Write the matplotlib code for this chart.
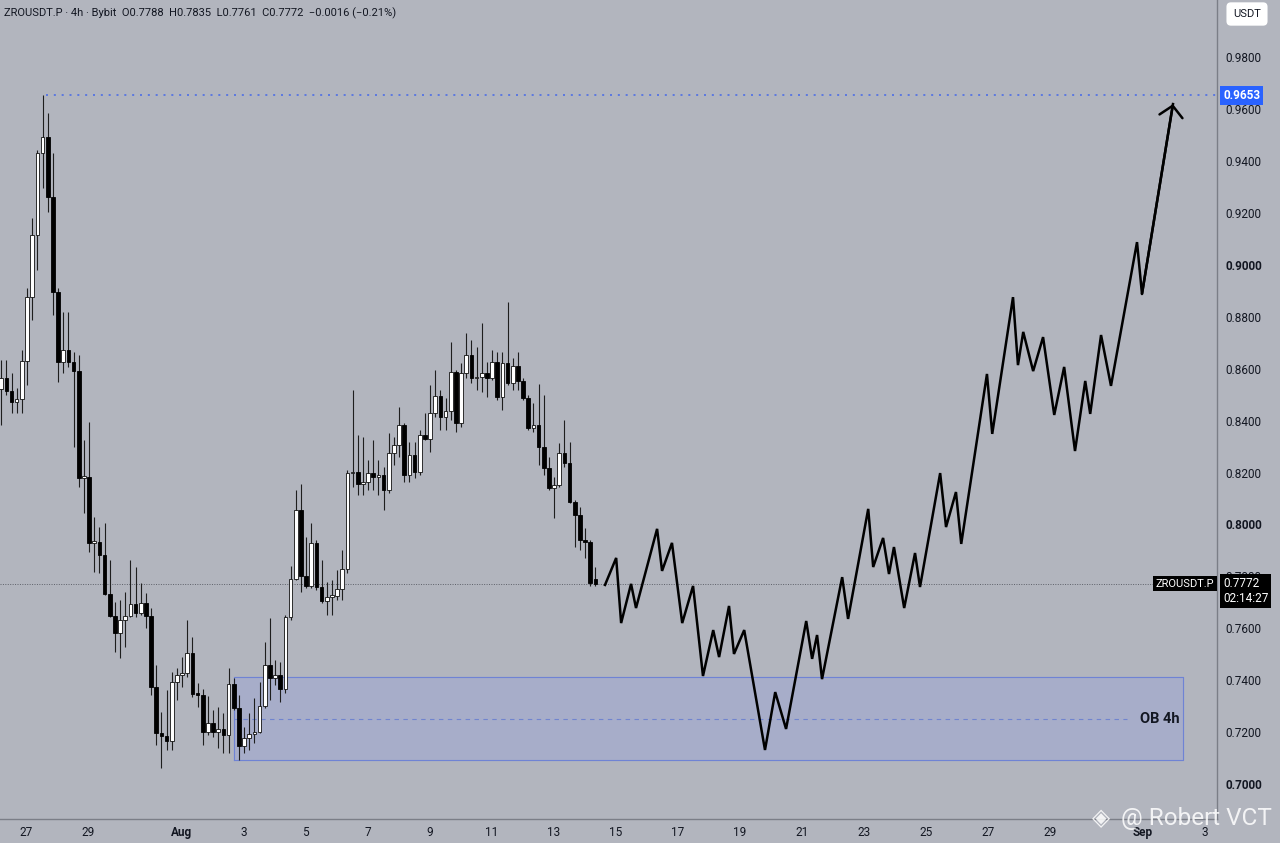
import numpy as np
import matplotlib
matplotlib.use("Agg")
from matplotlib import pyplot as plt
from matplotlib.transforms import blended_transform_factory

plt.rcParams['font.family'] = ['Roboto', 'DejaVu Sans']

# 4h candles of ZROUSDT.P, x axis counted in days from Aug 1 00:00
opens = [0.8522, 0.8564, 0.8514, 0.8472, 0.8483, 0.8630, 0.8877, 0.9115, 0.9431, 0.9493,
         0.9262, 0.8896, 0.8626, 0.8672, 0.8626, 0.8591, 0.8179, 0.8183, 0.7929, 0.7932,
         0.7882, 0.7732, 0.7647, 0.7582, 0.7632, 0.7647, 0.7693, 0.7659, 0.7697, 0.7647,
         0.7374, 0.7196, 0.7185, 0.7166, 0.7393, 0.7420, 0.7427, 0.7505, 0.7347, 0.7343,
         0.7200, 0.7235, 0.7200, 0.7212, 0.7189, 0.7385, 0.7293, 0.7146, 0.7177, 0.7192,
         0.7200, 0.7300, 0.7458, 0.7408, 0.7420, 0.7366, 0.7643, 0.7790, 0.8056, 0.7801,
         0.7763, 0.7929, 0.7759, 0.7705, 0.7721, 0.7724, 0.7751, 0.7828, 0.8198, 0.8202,
         0.8156, 0.8164, 0.8198, 0.8183, 0.8191, 0.8133, 0.8275, 0.8306, 0.8383, 0.8191,
         0.8268, 0.8202, 0.8345, 0.8329, 0.8430, 0.8495, 0.8414, 0.8437, 0.8587, 0.8391,
         0.8584, 0.8653, 0.8564, 0.8568, 0.8584, 0.8564, 0.8626, 0.8491, 0.8622, 0.8545,
         0.8611, 0.8553, 0.8487, 0.8372, 0.8383, 0.8298, 0.8218, 0.8140, 0.8152, 0.8275,
         0.8237, 0.8087, 0.8036, 0.7940, 0.7932, 0.7788]
highs = [0.8634, 0.8634, 0.8584, 0.8526, 0.8672, 0.8911, 0.9181, 0.9443, 0.9653, 0.9586,
         0.9431, 0.8911, 0.8819, 0.8819, 0.8665, 0.8653, 0.8325, 0.8395, 0.8029, 0.7991,
         0.8006, 0.7863, 0.7701, 0.7709, 0.7740, 0.7863, 0.7836, 0.7774, 0.7736, 0.7678,
         0.7458, 0.7277, 0.7362, 0.7431, 0.7447, 0.7489, 0.7632, 0.7566, 0.7389, 0.7366,
         0.7339, 0.7285, 0.7297, 0.7273, 0.7447, 0.7408, 0.7343, 0.7219, 0.7273, 0.7331,
         0.7393, 0.7547, 0.7640, 0.7478, 0.7470, 0.7651, 0.7840, 0.8133, 0.8156, 0.7952,
         0.8006, 0.7940, 0.7863, 0.7778, 0.7786, 0.7824, 0.7902, 0.8210, 0.8518, 0.8345,
         0.8337, 0.8248, 0.8325, 0.8248, 0.8221, 0.8352, 0.8337, 0.8453, 0.8391, 0.8318,
         0.8318, 0.8364, 0.8430, 0.8537, 0.8595, 0.8518, 0.8487, 0.8703, 0.8595, 0.8622,
         0.8738, 0.8711, 0.8684, 0.8776, 0.8626, 0.8672, 0.8665, 0.8665, 0.8857, 0.8641,
         0.8665, 0.8564, 0.8499, 0.8468, 0.8541, 0.8499, 0.8260, 0.8183, 0.8314, 0.8403,
         0.8318, 0.8094, 0.8067, 0.7987, 0.7940, 0.7835]
lows = [0.8383, 0.8499, 0.8430, 0.8430, 0.8430, 0.8537, 0.8788, 0.8981, 0.9297, 0.9204,
        0.8807, 0.8549, 0.8584, 0.8607, 0.8298, 0.8144, 0.8044, 0.7894, 0.7817, 0.7813,
        0.7728, 0.7643, 0.7508, 0.7485, 0.7528, 0.7643, 0.7643, 0.7651, 0.7601, 0.7343,
        0.7150, 0.7061, 0.7131, 0.7131, 0.7324, 0.7374, 0.7412, 0.7335, 0.7297, 0.7150,
        0.7189, 0.7181, 0.7139, 0.7119, 0.7119, 0.7285, 0.7092, 0.7119, 0.7131, 0.7158,
        0.7196, 0.7293, 0.7324, 0.7381, 0.7316, 0.7351, 0.7632, 0.7786, 0.7740, 0.7755,
        0.7755, 0.7748, 0.7697, 0.7651, 0.7651, 0.7709, 0.7709, 0.7813, 0.8144, 0.8113,
        0.8113, 0.8133, 0.8133, 0.8113, 0.8056, 0.8121, 0.8229, 0.8260, 0.8164, 0.8164,
        0.8179, 0.8191, 0.8325, 0.8279, 0.8414, 0.8364, 0.8364, 0.8403, 0.8356, 0.8376,
        0.8564, 0.8545, 0.8518, 0.8510, 0.8491, 0.8557, 0.8480, 0.8441, 0.8537, 0.8518,
        0.8518, 0.8480, 0.8364, 0.8356, 0.8229, 0.8191, 0.8133, 0.8025, 0.8144, 0.8221,
        0.8083, 0.7913, 0.7902, 0.7871, 0.7763, 0.7761]
closes = [0.8564, 0.8514, 0.8472, 0.8483, 0.8630, 0.8877, 0.9115, 0.9431, 0.9493, 0.9262,
          0.8896, 0.8626, 0.8672, 0.8626, 0.8591, 0.8179, 0.8183, 0.7929, 0.7932, 0.7882,
          0.7732, 0.7647, 0.7582, 0.7632, 0.7647, 0.7693, 0.7659, 0.7697, 0.7647, 0.7374,
          0.7196, 0.7185, 0.7166, 0.7393, 0.7420, 0.7427, 0.7505, 0.7347, 0.7343, 0.7200,
          0.7235, 0.7200, 0.7212, 0.7189, 0.7385, 0.7293, 0.7146, 0.7177, 0.7192, 0.7200,
          0.7300, 0.7458, 0.7408, 0.7420, 0.7366, 0.7643, 0.7790, 0.8056, 0.7801, 0.7763,
          0.7929, 0.7759, 0.7705, 0.7721, 0.7724, 0.7751, 0.7828, 0.8198, 0.8202, 0.8156,
          0.8164, 0.8198, 0.8183, 0.8191, 0.8133, 0.8275, 0.8306, 0.8383, 0.8191, 0.8268,
          0.8202, 0.8345, 0.8329, 0.8430, 0.8495, 0.8414, 0.8437, 0.8587, 0.8391, 0.8584,
          0.8653, 0.8564, 0.8568, 0.8584, 0.8564, 0.8626, 0.8491, 0.8622, 0.8545, 0.8611,
          0.8553, 0.8487, 0.8372, 0.8383, 0.8298, 0.8218, 0.8140, 0.8152, 0.8275, 0.8237,
          0.8087, 0.8036, 0.7940, 0.7932, 0.7774, 0.7772]
last_candle_day = 13.35

# hand drawn projection
path_days = [13.66, 14.02, 14.18, 14.50, 14.66, 15.34, 15.50, 15.82, 16.15, 16.50,
             16.82, 17.15, 17.34, 17.66, 17.82, 18.15, 18.82, 19.15, 19.50, 20.15,
             20.34, 20.50, 20.66, 21.31, 21.50, 22.15, 22.31, 22.63, 22.82, 22.98,
             23.31, 23.66, 23.82, 24.47, 24.66, 24.98, 25.15, 25.98, 26.15, 26.82,
             26.98, 27.15, 27.47, 27.79, 28.15, 28.47, 28.82, 29.15, 29.31, 29.66,
             29.98, 30.82, 30.98, 31.98]
path_prices = [0.7767, 0.7871, 0.7620, 0.7771, 0.7678, 0.7983, 0.7821, 0.7929, 0.7620, 0.7763,
               0.7416, 0.7593, 0.7489, 0.7686, 0.7501, 0.7593, 0.7131, 0.7354, 0.7212, 0.7628,
               0.7482, 0.7574, 0.7404, 0.7797, 0.7636, 0.8060, 0.7836, 0.7948, 0.7809, 0.7913,
               0.7678, 0.7890, 0.7759, 0.8198, 0.7990, 0.8125, 0.7925, 0.8580, 0.8349, 0.8876,
               0.8614, 0.8742, 0.8591, 0.8722, 0.8422, 0.8607, 0.8283, 0.8553, 0.8426, 0.8730,
               0.8534, 0.9088, 0.8888, 0.9620]

ob_start, ob_end = 1.69, 32.31
ob_top, ob_bottom = 0.7412, 0.7092
high_level = 0.9653
high_level_day = -4.37
last_price = 0.7772

xtick_days = [-5, -3, 0, 2, 4, 6, 8, 10, 12, 14, 16, 18, 20, 22, 24, 26, 28, 31, 33]
xtick_labels = ['27', '29', 'Aug', '3', '5', '7', '9', '11', '13', '15', '17', '19',
                '21', '23', '25', '27', '29', 'Sep', '3']
ytick_prices = [0.70, 0.72, 0.74, 0.76, 0.78, 0.80, 0.82, 0.84, 0.86, 0.88, 0.90,
                0.92, 0.94, 0.96, 0.98]

bg = '#b2b5be'
ink = '#131722'

fig = plt.figure(figsize=(12.8, 8.43), dpi=100, facecolor=bg)
ax = fig.add_axes([0, 24 / 843, 1217 / 1280, 819 / 843], facecolor=bg)

n = len(opens)
days = last_candle_day - (n - 1 - np.arange(n)) / 6
o = np.array(opens)
c = np.array(closes)
up = c >= o
body_w = 0.7 / 6

ax.vlines(days, lows, highs, color='#1e1e1e', lw=0.8, zorder=3)
body_low = np.minimum(o, c)
body_h = np.maximum(np.abs(c - o), 0.0006)
ax.bar(days[up], body_h[up], bottom=body_low[up], width=body_w,
       color='white', edgecolor='#111111', lw=0.6, zorder=4)
ax.bar(days[~up], body_h[~up], bottom=body_low[~up], width=body_w,
       color='black', edgecolor='black', lw=0.6, zorder=4)

# order block
ax.fill_between([ob_start, ob_end], ob_bottom, ob_top, color='#a7adc9', zorder=1)
ax.plot([ob_start, ob_end, ob_end, ob_start, ob_start],
        [ob_bottom, ob_bottom, ob_top, ob_top, ob_bottom], color='#6f83d4', lw=0.8, zorder=2)
ax.plot([ob_start, 30.5], [(ob_top + ob_bottom) / 2] * 2, color='#7084cf',
        lw=0.8, ls=(0, (4, 4)), zorder=2)
ax.text(31.55, (ob_top + ob_bottom) / 2, 'OB 4h', ha='center', va='center',
        fontsize=10.5, fontweight='bold', color=ink, zorder=5)

# levels
ax.plot([high_level_day, 34], [high_level] * 2, color='#4c6de6', lw=1.2,
        ls=(0, (1.2, 3.5)), zorder=2)
ax.axhline(last_price, color='#5d6069', lw=0.7, ls=(0, (1, 1.5)), zorder=2)

# projection
ax.plot(path_days, path_prices, color='black', lw=1.8, solid_joinstyle='miter', zorder=6)
ax.annotate('', xy=(path_days[-1], path_prices[-1]), xytext=(path_days[-2], path_prices[-2]),
            arrowprops=dict(arrowstyle='->,head_length=0.35,head_width=0.38', lw=1.8,
                            color='black', mutation_scale=22, shrinkA=0, shrinkB=0),
            zorder=6)

ax.set_xlim(-5.855, 33.40)
ax.set_ylim(0.6865, 1.0021)

ax.yaxis.tick_right()
ax.set_yticks(ytick_prices, [f'{v:.4f}' for v in ytick_prices])
ax.set_xticks(xtick_days, xtick_labels)
ax.tick_params(axis='y', length=0, pad=6, labelsize=8.5, labelcolor=ink)
ax.tick_params(axis='x', length=0, pad=5, labelsize=8.5, labelcolor=ink)
for lbl in ax.get_yticklabels():
    if lbl.get_text() in ('0.9000', '0.8000', '0.7000'):
        lbl.set_fontweight('bold')
for lbl in ax.get_xticklabels():
    if lbl.get_text() in ('Aug', 'Sep'):
        lbl.set_fontweight('bold')

for side in ('top', 'left'):
    ax.spines[side].set_visible(False)
for side in ('right', 'bottom'):
    ax.spines[side].set_color('#7b7e87')
    ax.spines[side].set_linewidth(1.0)

# price labels on the scale
tr = blended_transform_factory(ax.transAxes, ax.transData)
ax.text(1.005, high_level, f'{high_level:.4f}', transform=tr, ha='left', va='center',
        color='white', fontsize=8.5, fontweight='bold', clip_on=False, zorder=10,
        bbox=dict(boxstyle='square,pad=0.22', fc='#2962ff', ec='none'))
ax.text(0.9975, last_price, 'ZROUSDT.P', transform=tr, ha='right', va='center',
        color='white', fontsize=8, clip_on=False, zorder=10,
        bbox=dict(boxstyle='square,pad=0.25', fc='black', ec='none'))
ax.text(1.005, last_price + 0.0026, f'{last_price:.4f}\n02:14:27', transform=tr,
        ha='left', va='top', color='white', fontsize=8.5, linespacing=1.2,
        clip_on=False, zorder=10,
        bbox=dict(boxstyle='square,pad=0.25', fc='black', ec='none'))

fig.text(1247 / 1280, 1 - 14 / 843, 'USDT', ha='center', va='center', fontsize=8,
         color=ink, bbox=dict(boxstyle='round,pad=0.6,rounding_size=0.4', fc='white', ec='none'))

fig.text(4 / 1280, 1 - 13 / 843,
         'ZROUSDT.P · 4h · Bybit  O0.7788  H0.7835  L0.7761  C0.7772  \u22120.0016 (\u22120.21%)',
         ha='left', va='center', fontsize=8, color=ink)

fig.text(1101 / 1280, 1 - 818 / 843, '\u25c8', ha='center', va='center', fontsize=17,
         color='white', alpha=0.85, family='DejaVu Sans')
fig.text(1272 / 1280, 1 - 818 / 843, '@ Robert VCT', ha='right', va='center', fontsize=17.5,
         color='white', alpha=0.85)

fig.savefig('out.png', dpi=100, facecolor=bg)
